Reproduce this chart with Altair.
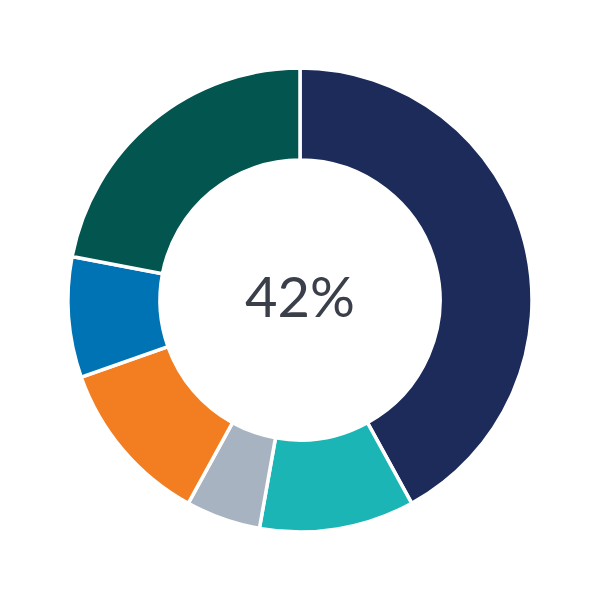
import altair as alt
import pandas as pd

categories = ["A", "B", "C", "D", "E", "F"]
values = [42, 10.8, 5.2, 11.6, 8.4, 22]
colors = ["#1C2B5A", "#1BB5B6", "#A8B3C2", "#F27E21", "#0073B5", "#03554F"]
center_label = "42%"

df = pd.DataFrame({"cat": categories, "val": values, "order": list(range(len(values)))})

arcs = alt.Chart(df).mark_arc(
    innerRadius=140, outerRadius=232, stroke="white", strokeWidth=3.5
).encode(
    theta=alt.Theta("val:Q", stack=True),
    color=alt.Color("cat:N", scale=alt.Scale(domain=categories, range=colors), legend=None),
    order=alt.Order("order:Q"),
)

text = alt.Chart(pd.DataFrame({"t": [center_label]})).mark_text(
    font="Lato", fontSize=56, fontWeight="normal", color="#3A3F4A", baseline="middle", align="center"
).encode(text="t:N")

chart = alt.layer(arcs, text).properties(
    width=584, height=584, padding=0, autosize=alt.AutoSizeParams(type="none")
).configure_view(stroke=None)

chart.save("out.html", embed_options={"renderer": "svg", "actions": False})
